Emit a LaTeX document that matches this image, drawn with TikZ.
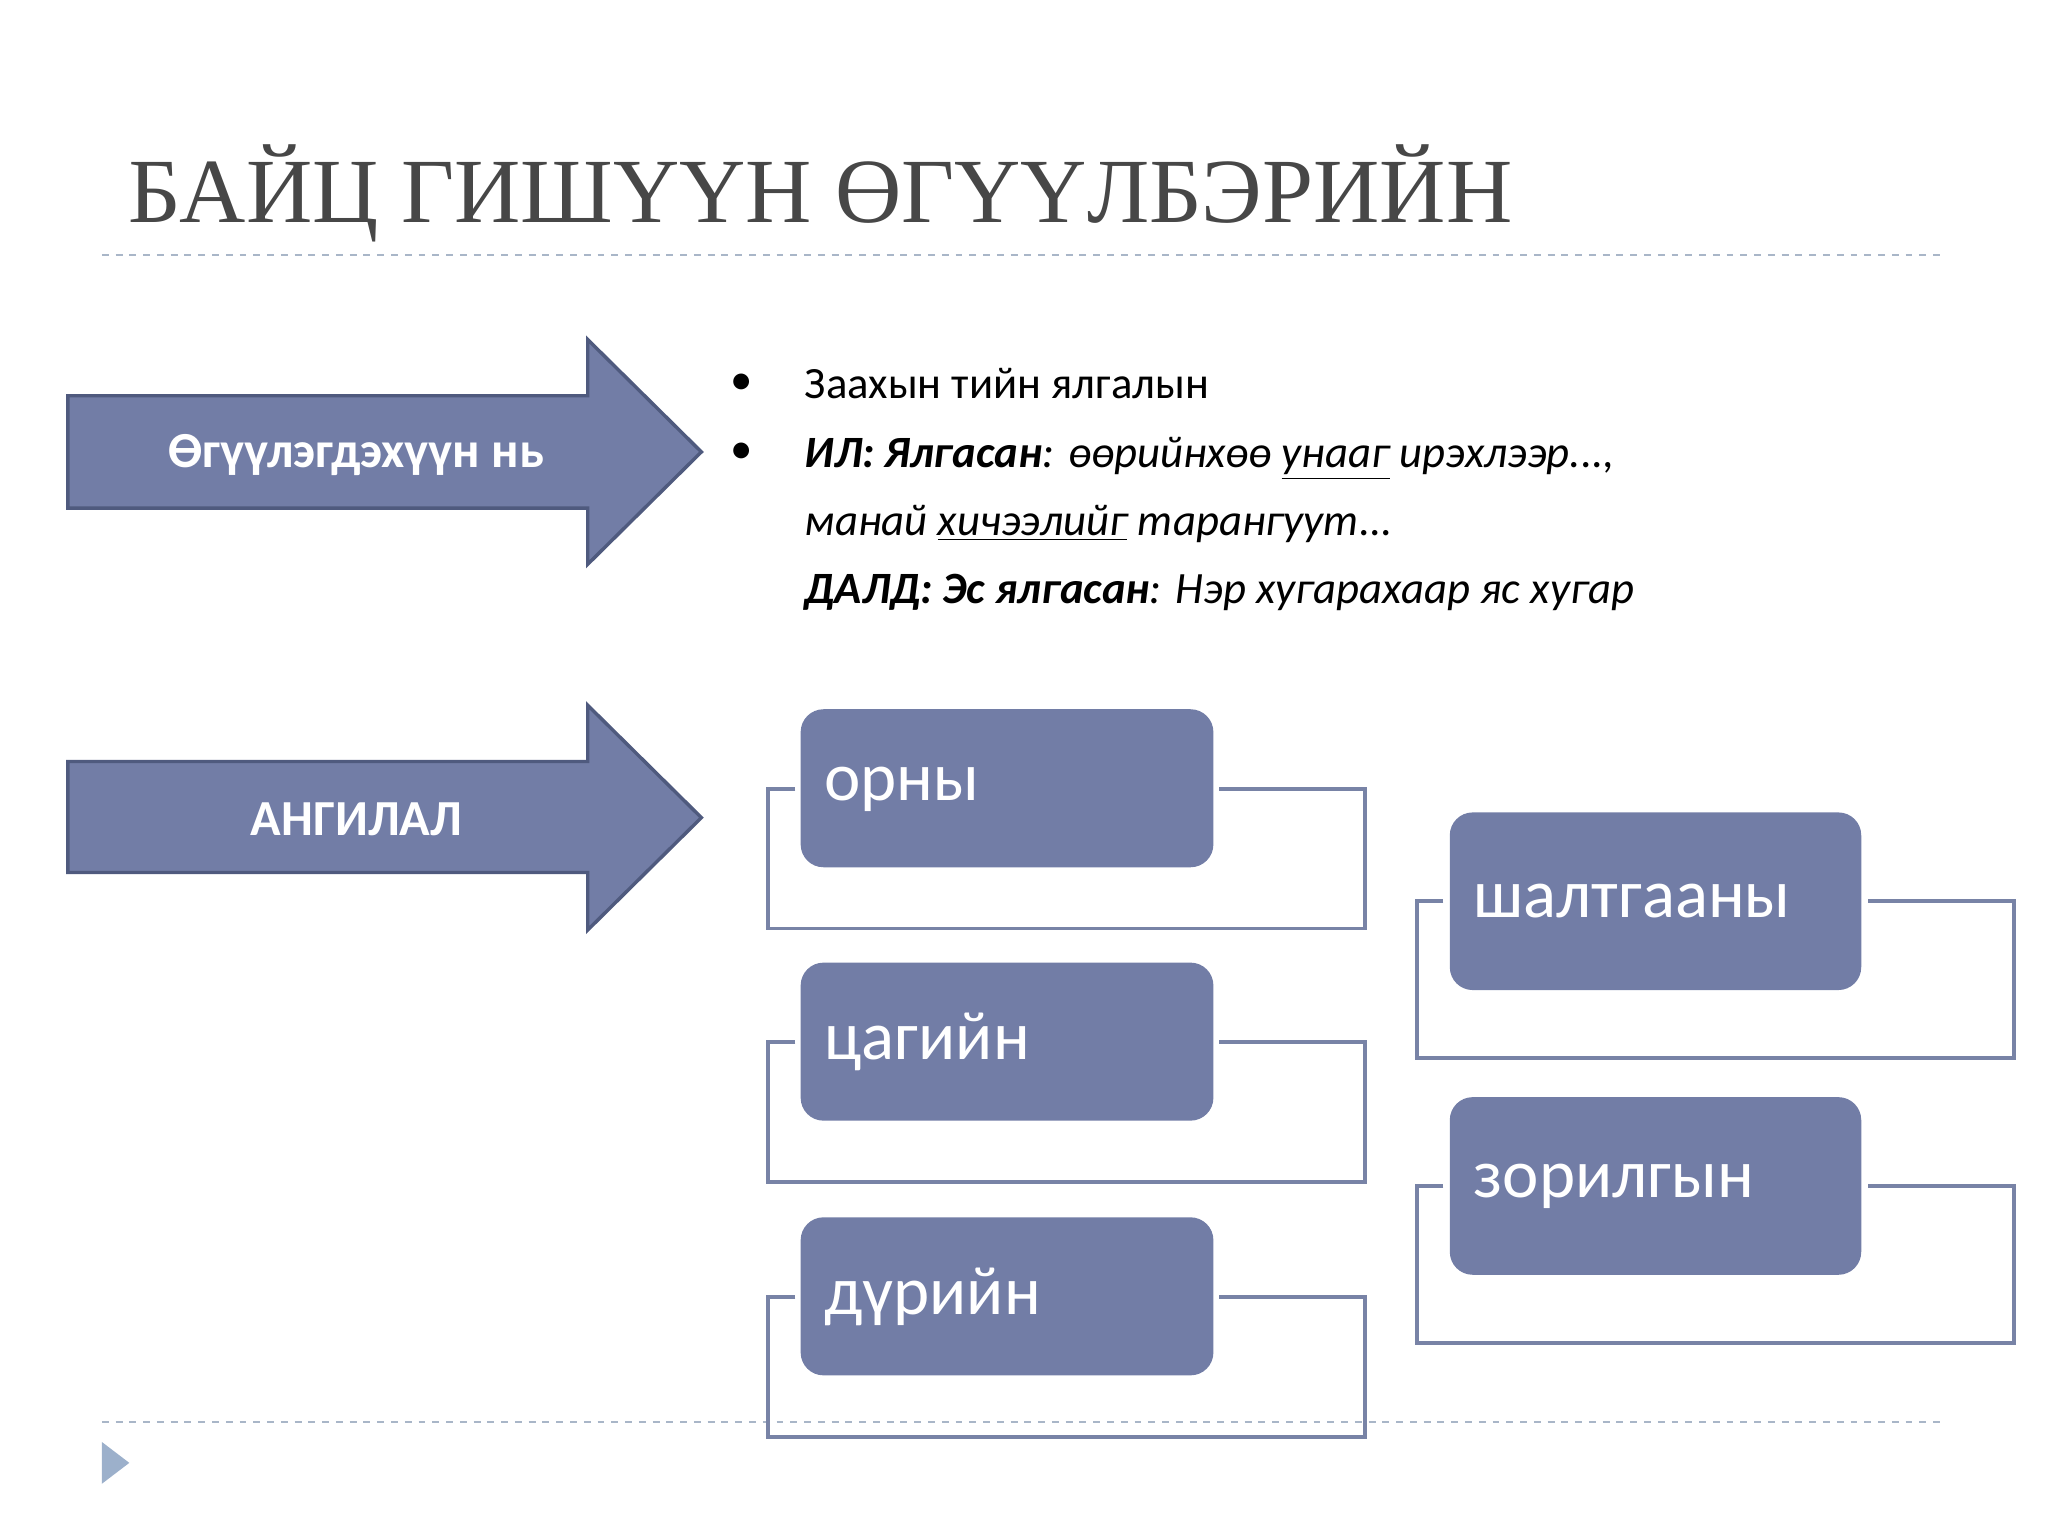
\documentclass[tikz,border=0pt]{standalone}
\usepackage{fontspec}
\setmainfont{Carlito}
\newfontfamily\titlefont{Liberation Serif}
\definecolor{boxc}{HTML}{727DA6}
\definecolor{edgec}{HTML}{4F5A7E}
\definecolor{brc}{HTML}{7883A6}
\definecolor{dashc}{HTML}{A9B6C8}
\definecolor{tric}{HTML}{9CB0CB}
\begin{document}
\begin{tikzpicture}[x=0.02cm,y=-0.02cm,
  rbox/.style={fill=boxc,draw=none,rounded corners=0.35cm},
  btxt/.style={anchor=west,text=white,font=\fontsize{30}{32}\selectfont},
  brk/.style={draw=brc,line width=1.6pt},
  arr/.style={fill=boxc,draw=edgec,line width=1.5pt},
  line/.style={anchor=base west,font=\fontsize{19.5}{22}\selectfont}]
\useasboundingbox (0,0) rectangle (1568,1176);
\node[anchor=west,text=black!72,font=\titlefont\fontsize{40}{44}\selectfont] (title) at (92,148) {БАЙЦ ГИШҮҮН ӨГҮҮЛБЭРИЙН};
\draw[dashc,dashed,line width=0.8pt] (78,195) -- (1490,195);
\draw[dashc,dashed,line width=0.8pt] (78,1089) -- (1490,1089);
\fill[tric] (78,1104) -- (99,1120) -- (78,1136) -- cycle;
% arrows
\draw[arr] (52,303) -- (450,303) -- (450,260) -- (537,346) -- (450,432) -- (450,389) -- (52,389) -- cycle;
\node[text=white,font=\bfseries\fontsize{22}{24}\selectfont] (a1) at (273,348) {Өгүүлэгдэхүүн нь};
\draw[arr] (52,583) -- (450,583) -- (450,540) -- (537,626) -- (450,712) -- (450,668) -- (52,668) -- cycle;
\node[text=white,font=\bfseries\fontsize{22}{24}\selectfont] (a2) at (273,627) {АНГИЛАЛ};
% bullets
\node[line] (b1) at (553,302) {•};
\node[line] (b2) at (553,355) {•};
\node[line] (t1) at (610,305) {Заахын тийн ялгалын};
\node[line] (t2) at (610,358) {\textit{\textbf{ИЛ: Ялгасан}: өөрийнхөө \underline{унааг} ирэхлээр...,}};
\node[line] (t3) at (610,410) {\textit{манай \underline{хичээлийг} тарангуут...}};
\node[line] (t4) at (610,462) {\textit{\textbf{ДАЛД: Эс ялгасан}: Нэр хугарахаар яс хугар}};
% left column
\foreach \n/\t/\y in {o/орны/543, c/цагийн/737, d/дүрийн/932}{
  \draw[brk] (609,\y+61) -- (588,\y+61) -- (588,\y+168) -- (1045,\y+168) -- (1045,\y+61) -- (933,\y+61);
  \fill[boxc,rounded corners=0.35cm] (613,\y) rectangle (929,\y+121);
  \node[btxt] (\n) at (625,\y+61) {\t};
}
\foreach \n/\t/\y in {s/шалтгааны/622, z/зорилгын/840}{
  \draw[brk] (1105,\y+68) -- (1085,\y+68) -- (1085,\y+188) -- (1542,\y+188) -- (1542,\y+68) -- (1430,\y+68);
  \fill[boxc,rounded corners=0.35cm] (1110,\y) rectangle (1425,\y+136);
  \node[btxt] (\n) at (1122,\y+68) {\t};
}
\end{tikzpicture}
\end{document}
